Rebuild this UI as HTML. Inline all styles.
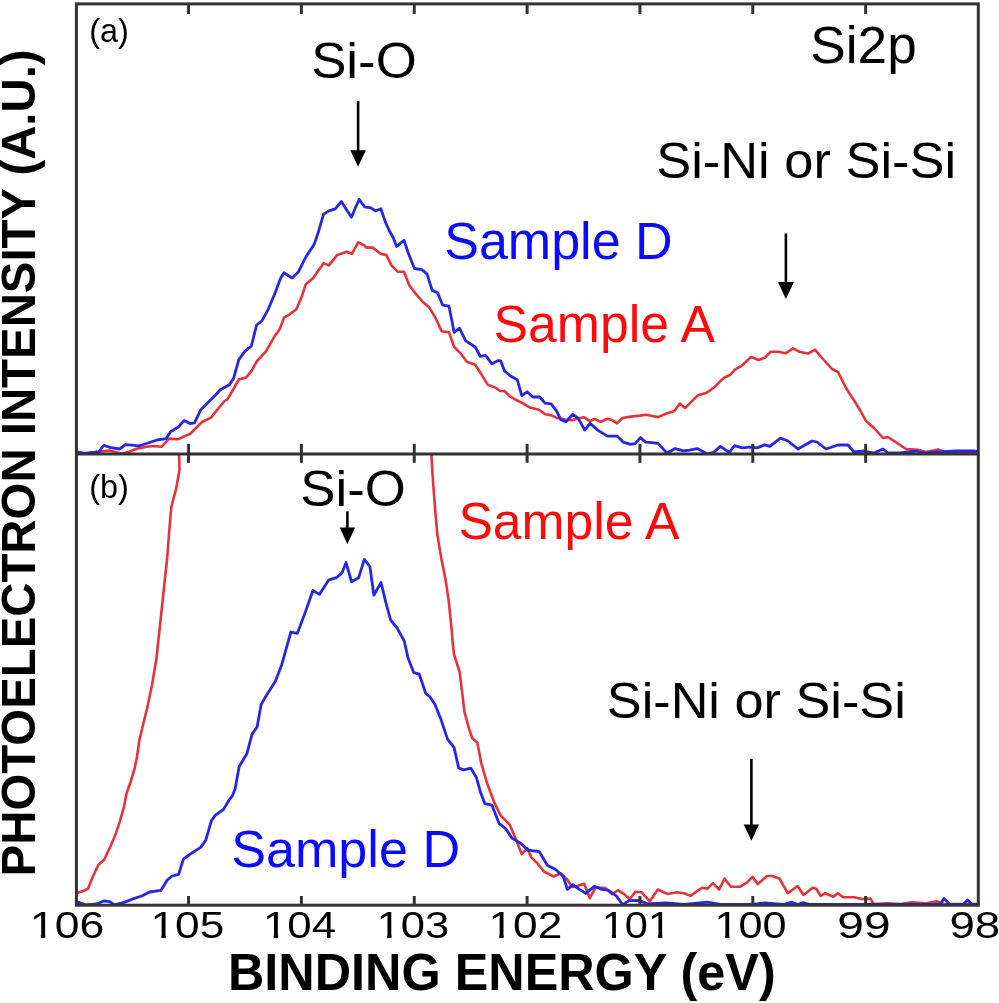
<!DOCTYPE html>
<html><head><meta charset="utf-8"><style>
html,body{margin:0;padding:0;background:#fff;width:999px;height:1003px;overflow:hidden}
svg{display:block;filter:blur(0.45px)}
</style></head><body>
<svg width="999" height="1003" viewBox="0 0 999 1003">
<rect width="999" height="1003" fill="#fff"/>
<clipPath id="ca"><rect x="77" y="4" width="901" height="450"/></clipPath>
<clipPath id="cb"><rect x="77" y="455" width="901" height="450"/></clipPath>
<g clip-path="url(#ca)"><polyline points="77,453.6 79,453.6 95.5,452 109,450.6 121,453.6 128.5,452 136,449 146.6,446.8 154,446 161.6,446.8 169,438.6 178,439.3 185.6,435.6 190,434 196,428 202,422 211,417.6 217,410 224.6,401 227.3,399.4 233.6,388.9 238.8,379.5 246.2,377.4 251.4,371.1 256.6,361.7 266.1,351.2 274.4,336.6 279.7,329.2 283.9,317.7 289.1,314.6 296.4,309.3 301.7,296.8 305.8,284.2 313.2,277.9 318.4,270.6 323.6,263.3 328.9,265.4 337.3,254.9 346.7,251.8 351.9,253.9 358.2,242.3 364.5,245.5 366.3,247.6 372.6,247.6 380.9,253.9 386.2,254.9 391.4,265.4 397.7,271.7 404,271.7 409.2,285.3 416.5,294.7 422.8,302 429.1,307.3 435.4,317.7 441.7,331.3 449,332.4 454.2,347 460.5,353.3 466.8,361.7 475.2,364.8 481.4,374.3 487.7,384.7 496.1,387.9 500,391 504.5,391 509.8,396.3 516.5,400.1 522.5,403.1 530,407.6 539,409.8 545,414.3 551,415.1 557.1,418.1 564.6,419.6 572.1,420.3 576.6,418.8 584.1,417.3 590,421.1 594.6,418.8 600.6,421.8 607.4,418.8 612.6,420.3 617.1,423.3 622.4,418.1 630.6,416.6 640,415.6 646,414.8 658,417.1 667,413.3 674.5,411.1 679.8,403.6 685,408.1 691,402.1 697.8,395.3 706.1,393.1 713.6,387.8 719.6,381.8 724.8,377.3 730.1,375 734.6,369.8 742.1,365.3 751.1,357 758.6,360 764.6,357.8 770.6,351.8 778.1,351.8 785.6,353.3 793,348.4 800,352 808,353.6 815,349.6 822,358 832,369 838,372 846,388 855,402 860,410 866,421 874,428 883,438 888,437 897,443 906,449 918,449.7 926,452 938,449.5 946,452.5 960,451.7 980,452" fill="none" stroke="#e8323a" stroke-width="2.6" stroke-linejoin="round" stroke-linecap="round"/><polyline points="77,452 79,452.1 85,453.6 98.5,452 103.8,445.3 110.5,447.6 119.5,449 125.5,444.6 134.6,445.3 139,446 148,443 157,440 166,438.6 170.6,431.8 178,427.3 184,420.6 190,423.6 194.6,422.8 200.6,410 208,402.6 217,393.5 220,390 229.4,384.7 233.6,378.4 238.8,359.6 245.1,351.2 251.4,346 256.6,325 261.9,320.9 268.2,309.3 274.4,294.7 280.7,278 283.9,272.7 292.2,278 298.5,271.7 305.8,257 314.2,244.4 318.4,231.9 323.6,214.1 328.9,210.9 335.2,208.8 341.4,201.5 346.7,209.9 351.5,217.2 355,208.8 359.2,199.4 364.5,206.8 370.5,207.8 375.7,210.9 380.9,208.8 385.1,221.4 389.3,230.8 393.5,238.2 396.6,246.5 404,240.3 408.2,252.8 414.4,268.5 421.8,269.6 427,273.8 432.2,290.5 437.5,292.6 442.7,305.2 449,306.2 454.2,332.4 459.5,328.2 465.7,340.8 475.2,347 480.4,356.5 485.6,355.4 491.9,363.8 498.2,360.6 500.8,361 504.5,371 510.5,376 517.3,379.8 521.8,395.6 527,391.8 533,397 539.8,397 545,403.1 551,403.8 556.3,410.6 560.8,419.6 566,421.8 572.8,414.3 578.1,418.1 584.8,430.1 590,423.3 597.6,430.1 607.4,436.1 617.1,436.1 623.1,442.1 630.6,444.4 635.1,443.6 640.4,437.6 645.6,442.1 652,442.6 658,443.4 667,453.1 675.3,448.6 683.5,450.9 689.5,450.1 697.1,448.6 707.6,453.9 713.6,452.4 720.3,446.4 729.3,452.4 734.6,445.6 742.1,447.9 749.6,447.1 757.1,447.9 764.6,444.9 769.9,446.4 780.4,438.1 788,441 798,449 812,441 817,442 826,449 838,445 848,445 854,452 864,451 874,453 883,449 888,453 900,453 916,451 924,453 940,452 956,451 974,451 980,452" fill="none" stroke="#2626e6" stroke-width="2.8" stroke-linejoin="round" stroke-linecap="round"/></g>
<g clip-path="url(#cb)"><polyline points="77,893 77.6,892.8 82.4,891.2 88,888.8 92.8,876.8 98.4,864.8 104,860 110.5,846.3 115.3,835.1 120.1,820.7 124.1,806.3 126.5,793.5 130.5,782.2 134.5,769 137,757 139.4,740 143,725 147.1,708.5 152,685 156.4,659 161,616 165.6,572.5 167,560 169.6,527 171.3,507 176.2,488.4 179.5,470 179,450" fill="none" stroke="#e8323a" stroke-width="2.6" stroke-linejoin="round" stroke-linecap="round"/><polyline points="431.4,450 431.4,455 433,481.4 435.1,508.6 437.2,533.8 441.4,558.9 445.6,579.8 448.7,600.8 451.9,632.2 452.4,640 454,654.4 459.6,672 462,691.3 464.5,712.1 469.3,729.7 472.5,738.6 477.3,742.6 481.3,763.4 486.9,782.6 489.6,790 494.4,802.8 500.8,815.6 509.6,824.5 516.1,839.7 521.7,854.1 527.3,848.5 531.3,857.3 537.7,863.7 544.1,871.7 553.7,876.5 560.9,873.3 567.3,879.7 572.1,887 576.2,886.2 584.2,883.8 589.8,898.2 595.4,887.8 605,887.8 612.2,894.2 617.8,890.2 624.2,894.2 629.8,899 635.4,891.8 641.7,892.3 649.8,901.3 657.9,889.5 667.8,894.1 676.8,892.3 684,893.2 690.4,895.9 702,887.7 707.5,888.6 712.9,883.2 719.2,889.5 724.6,878.7 730.9,886.8 739.9,886.8 747.1,882.3 752.5,876.9 757.9,884.1 766.9,876 772.3,876 779.5,878.7 787.7,893.2 797.6,886 803.6,895 812.6,887.8 816.2,888.7 820.7,896 825.2,893.2 833.3,896.8 837.8,893.2 843.2,897.2 854,897.2 862.2,899 870.3,898.6 873.9,904 886.5,903.2 900.9,904 911.7,902.3 926.1,903.2 937,901.4 944,904 980,904" fill="none" stroke="#e8323a" stroke-width="2.6" stroke-linejoin="round" stroke-linecap="round"/><polyline points="77,903 78.4,902.4 85.6,904.8 96.8,904 104,900.8 109.7,901.6 114.5,904.8 124.1,902.4 132.1,899.2 141.7,896 149.7,892 160.9,890.4 167.3,880 172.2,876 178.6,874.4 183.4,859.2 189.8,854.4 201,847.1 205.8,840 211.4,820.7 215.4,815.1 223.4,809.5 229.8,799.1 232.6,795.3 235.2,788.8 239.1,766.8 246.8,753.8 252,734.4 257.2,726.6 261.1,704.6 266.3,695.5 275.4,681.3 281.8,664.4 290.9,632 297.4,633.3 305.2,612.6 312.9,590.5 319.4,594.4 328.5,580.2 336.4,577.7 342,572.9 346,562.5 351.5,581.7 358.7,577.7 364.3,559.4 369.9,566.5 373.9,595.2 381,582.5 385.8,602.4 390.6,620 397,627.9 404.2,640.7 408.1,658.2 413.7,672.6 419.3,674.2 425.7,693.3 430,697 434.8,704.1 441.2,720.1 447.6,739.4 454,747.4 458.8,768.2 463.7,769.8 470.9,768.2 476.5,777.8 480.5,792.2 484.8,803.6 492,805.2 499.2,823.7 505.6,828.5 512,838.1 520.1,842.9 528.1,850.1 539.3,851.7 547.3,865.3 555.3,869.3 563.3,876.5 567.3,889.4 573,884.6 579.4,889.4 585.8,893.4 594.6,886.2 601.8,889.4 608.2,890.2 616.2,895.8 622.6,904.6 629,900.6 639,900.4 648,904 666,903 684,904.5 707.5,902.2 720,904.5 752.5,904.5 765,903 783,904.5 792,902.2 797.6,904.5 803,902.7 810,904.5 830,904.5 940,904.5 944,898.5 950,904.5 963,904.5 967.6,900 972,904.5 980,904" fill="none" stroke="#2626e6" stroke-width="2.8" stroke-linejoin="round" stroke-linecap="round"/></g>
<g stroke="#333" stroke-width="3" fill="none"><rect x="76.4" y="3.9" width="901.90" height="901.30"/><line x1="76.4" y1="454.1" x2="978.3" y2="454.1"/><line x1="188.55" y1="3.9" x2="188.55" y2="14"/><line x1="188.55" y1="443.8" x2="188.55" y2="462.8"/><line x1="188.55" y1="896" x2="188.55" y2="905.2"/><line x1="301.40" y1="3.9" x2="301.40" y2="14"/><line x1="301.40" y1="443.8" x2="301.40" y2="462.8"/><line x1="301.40" y1="896" x2="301.40" y2="905.2"/><line x1="414.25" y1="3.9" x2="414.25" y2="14"/><line x1="414.25" y1="443.8" x2="414.25" y2="462.8"/><line x1="414.25" y1="896" x2="414.25" y2="905.2"/><line x1="527.10" y1="3.9" x2="527.10" y2="14"/><line x1="527.10" y1="443.8" x2="527.10" y2="462.8"/><line x1="527.10" y1="896" x2="527.10" y2="905.2"/><line x1="639.95" y1="3.9" x2="639.95" y2="14"/><line x1="639.95" y1="443.8" x2="639.95" y2="462.8"/><line x1="639.95" y1="896" x2="639.95" y2="905.2"/><line x1="752.80" y1="3.9" x2="752.80" y2="14"/><line x1="752.80" y1="443.8" x2="752.80" y2="462.8"/><line x1="752.80" y1="896" x2="752.80" y2="905.2"/><line x1="865.65" y1="3.9" x2="865.65" y2="14"/><line x1="865.65" y1="443.8" x2="865.65" y2="462.8"/><line x1="865.65" y1="896" x2="865.65" y2="905.2"/></g>
<line x1="358.1" y1="101" x2="358.1" y2="152.2" stroke="#000" stroke-width="2.6"/><polygon points="350.3,150.2 365.90000000000003,150.2 358.1,166.7" fill="#000"/>
<line x1="785.9" y1="233.5" x2="785.9" y2="284" stroke="#000" stroke-width="2.6"/><polygon points="777.9,282 793.9,282 785.9,299" fill="#000"/>
<line x1="347.4" y1="511.4" x2="347.4" y2="529.5" stroke="#000" stroke-width="2.6"/><polygon points="339.7,527.5 355.09999999999997,527.5 347.4,544.3" fill="#000"/>
<line x1="751.4" y1="759" x2="751.4" y2="826.4" stroke="#000" stroke-width="2.6"/><polygon points="743.6999999999999,824.4 759.1,824.4 751.4,840.8" fill="#000"/>
<g font-family="Liberation Sans, sans-serif" font-size="100">
<text transform="translate(89.15 41.73) scale(0.3245 0.3319)" fill="#000" font-weight="400">(a)</text>
<text transform="translate(311.16 78.10) scale(0.5279 0.5027)" fill="#000" font-weight="400">Si-O</text>
<text transform="translate(810.34 63.25) scale(0.5314 0.5117)" fill="#000" font-weight="400">Si2p</text>
<text transform="translate(656.18 177.99) scale(0.5241 0.5068)" fill="#000" font-weight="400">Si-Ni or Si-Si</text>
<text transform="translate(444.20 259.08) scale(0.5203 0.5106)" fill="#0a0aff" font-weight="400">Sample D</text>
<text transform="translate(493.61 341.66) scale(0.5173 0.5160)" fill="#ff0a0a" font-weight="400">Sample A</text>
<text transform="translate(89.15 497.63) scale(0.3245 0.3319)" fill="#000" font-weight="400">(b)</text>
<text transform="translate(300.36 505.51) scale(0.5274 0.4919)" fill="#000" font-weight="400">Si-O</text>
<text transform="translate(458.42 538.93) scale(0.5165 0.5128)" fill="#ff0a0a" font-weight="400">Sample A</text>
<text transform="translate(606.79 718.10) scale(0.5225 0.4973)" fill="#000" font-weight="400">Si-Ni or Si-Si</text>
<text transform="translate(231.19 866.94) scale(0.5214 0.5170)" fill="#0a0aff" font-weight="400">Sample D</text>
<g transform="translate(29.94 938.13) scale(0.4448 0.3690)"><text fill="#000" font-weight="400">106</text><rect x="5.0" y="-9" width="19.5" height="10" fill="#fff"/><rect x="34.5" y="-9" width="18" height="10" fill="#fff"/></g>
<g transform="translate(150.46 938.13) scale(0.4426 0.3690)"><text fill="#000" font-weight="400">105</text><rect x="5.0" y="-9" width="19.5" height="10" fill="#fff"/><rect x="34.5" y="-9" width="18" height="10" fill="#fff"/></g>
<g transform="translate(263.00 938.13) scale(0.4378 0.3690)"><text fill="#000" font-weight="400">104</text><rect x="5.0" y="-9" width="19.5" height="10" fill="#fff"/><rect x="34.5" y="-9" width="18" height="10" fill="#fff"/></g>
<g transform="translate(376.51 938.13) scale(0.4357 0.3690)"><text fill="#000" font-weight="400">103</text><rect x="5.0" y="-9" width="19.5" height="10" fill="#fff"/><rect x="34.5" y="-9" width="18" height="10" fill="#fff"/></g>
<g transform="translate(488.46 938.13) scale(0.4422 0.3690)"><text fill="#000" font-weight="400">102</text><rect x="5.0" y="-9" width="19.5" height="10" fill="#fff"/><rect x="34.5" y="-9" width="18" height="10" fill="#fff"/></g>
<g transform="translate(601.68 938.13) scale(0.4156 0.3690)"><text fill="#000" font-weight="400">101</text><rect x="5.0" y="-9" width="19.5" height="10" fill="#fff"/><rect x="34.5" y="-9" width="18" height="10" fill="#fff"/><rect x="116.2" y="-9" width="19.5" height="10" fill="#fff"/><rect x="145.7" y="-9" width="18" height="10" fill="#fff"/></g>
<g transform="translate(714.54 938.13) scale(0.4323 0.3690)"><text fill="#000" font-weight="400">100</text><rect x="5.0" y="-9" width="19.5" height="10" fill="#fff"/><rect x="34.5" y="-9" width="18" height="10" fill="#fff"/></g>
<text transform="translate(837.30 938.13) scale(0.4792 0.3690)" fill="#000" font-weight="400">99</text>
<text transform="translate(949.42 938.13) scale(0.4569 0.3690)" fill="#000" font-weight="400">98</text>
<text transform="translate(35.32 876.38) rotate(-90) scale(0.4737 0.4831)" fill="#000" font-weight="700">PHOTOELECTRON INTENSITY (A.U.)</text>
<text transform="translate(227.92 989.98) scale(0.5039 0.5211)" fill="#000" font-weight="700">BINDING ENERGY (eV)</text>
</g>
</svg>
</body></html>
